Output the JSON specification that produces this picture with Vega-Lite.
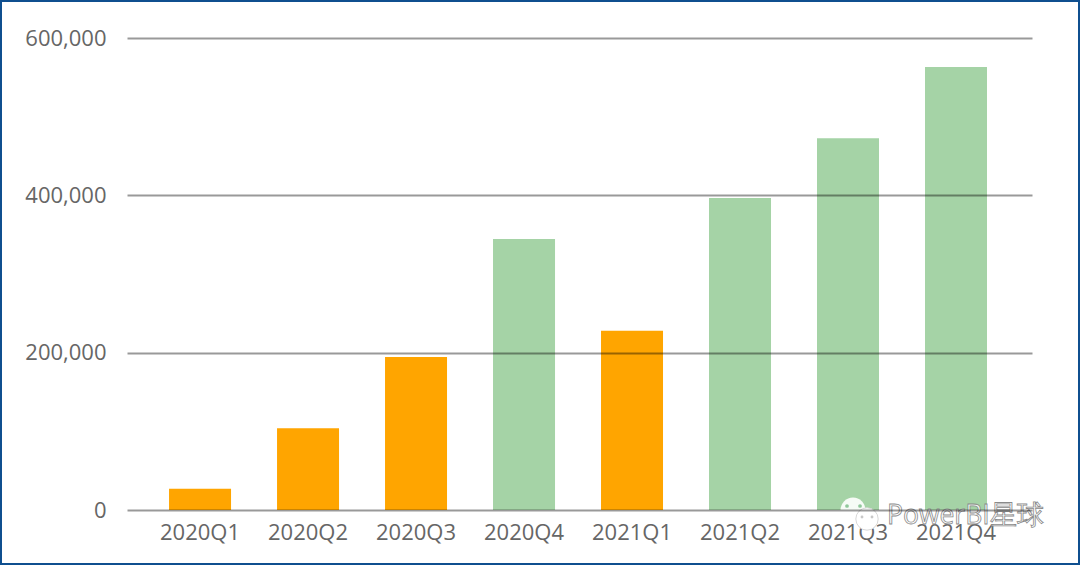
{
"$schema":"https://vega.github.io/schema/vega-lite/v6.json",
"autosize":{"type":"none"},
"width":1080,"height":565,
"padding":0,
"background":"#ffffff",
"config":{"view":{"stroke":"#0F4F8F","strokeWidth":4}},
"datasets":{
"bars":[
{"q":"2020Q1","v":27000,"c":"a"},
{"q":"2020Q2","v":104000,"c":"a"},
{"q":"2020Q3","v":194500,"c":"a"},
{"q":"2020Q4","v":344500,"c":"b"},
{"q":"2021Q1","v":228000,"c":"a"},
{"q":"2021Q2","v":396500,"c":"b"},
{"q":"2021Q3","v":472500,"c":"b"},
{"q":"2021Q4","v":563000,"c":"b"}
],
"mark":[{"q":"2021Q3","v":0,"label":"PowerBI星球"}]
},
"encoding":{
"x":{"field":"q","type":"nominal","sort":["2020Q1","2020Q2","2020Q3","2020Q4","2021Q1","2021Q2","2021Q3","2021Q4"],"scale":{"range":[127,1032],"paddingInner":0.4259,"paddingOuter":0.403,"align":0.483},"axis":{"title":null,"labelAngle":0,"labelFont":"Open Sans","labelFontSize":22,"labelColor":"#666666","ticks":false,"domain":false,"labelPadding":12,"offset":-55}},
"y":{"field":"v","type":"quantitative","scale":{"domain":[0,600000],"nice":false,"range":[510,38]},"axis":{"title":null,"values":[0,200000,400000,600000],"format":",.0f","labelFont":"Open Sans","labelFontSize":22,"labelColor":"#666666","ticks":true,"tickSize":905,"tickColor":"#000000","tickOpacity":0.4,"tickWidth":1.8,"domain":false,"grid":false,"labelPadding":21,"offset":-1032,"zindex":1}}
},
"layer":[
{"data":{"name":"bars"},
"mark":{"type":"bar","size":62},
"encoding":{"color":{"field":"c","type":"nominal","legend":null,"scale":{"domain":["a","b"],"range":["#FFA500","#A5D3A6"]}}}},
{"data":{"name":"mark"},"mark":{"type":"point","filled":true,"shape":"circle","size":620,"color":"#ffffff","opacity":0.9,"xOffset":5,"yOffset":0}},
{"data":{"name":"mark"},"mark":{"type":"point","filled":true,"shape":"circle","size":500,"color":"#ffffff","stroke":"#d8d8d8","strokeWidth":1,"opacity":1,"xOffset":19,"yOffset":9}},
{"data":{"name":"mark"},"mark":{"type":"point","filled":true,"shape":"circle","size":14,"color":"#8fc79a","opacity":1,"xOffset":-1,"yOffset":-4}},
{"data":{"name":"mark"},"mark":{"type":"point","filled":true,"shape":"circle","size":14,"color":"#8fc79a","opacity":1,"xOffset":12,"yOffset":-4}},
{"data":{"name":"mark"},"mark":{"type":"point","filled":true,"shape":"circle","size":8,"color":"#c8c8c8","opacity":1,"xOffset":14,"yOffset":7}},
{"data":{"name":"mark"},"mark":{"type":"point","filled":true,"shape":"circle","size":8,"color":"#c8c8c8","opacity":1,"xOffset":24,"yOffset":7}},
{"data":{"name":"mark"},"mark":{"type":"text","font":"Open Sans","fontSize":26.5,"align":"left","baseline":"middle","dx":39,"dy":6,"fill":"#ffffff","fillOpacity":0.85,"stroke":"#8a8a8a","strokeWidth":0.8},"encoding":{"text":{"field":"label"}}}
]
}
